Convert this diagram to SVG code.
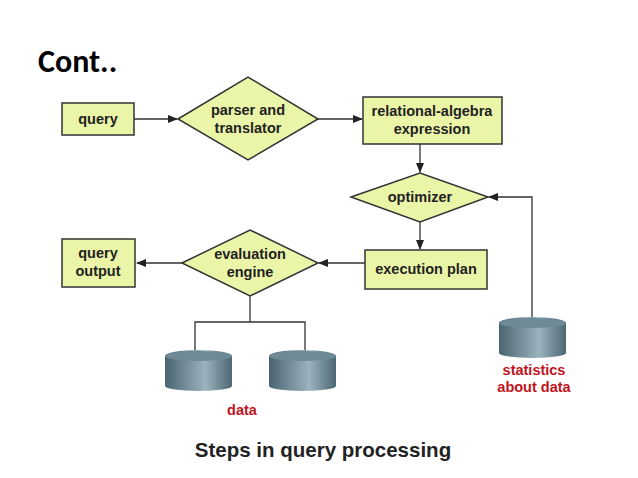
<svg xmlns="http://www.w3.org/2000/svg" width="638" height="478" viewBox="0 0 638 478">
<defs>
<style>
.n{fill:#ebf5a8;stroke:#333;stroke-width:1.5}
.t{font-family:"Liberation Sans",Arial,sans-serif;font-weight:bold;font-size:14.5px;fill:#222;text-anchor:middle}
.r{font-family:"Liberation Sans",Arial,sans-serif;font-weight:bold;font-size:14.5px;fill:#c0141c;text-anchor:middle}
.c{fill:none;stroke:#333;stroke-width:1.3}
</style>
<marker id="a" markerWidth="10" markerHeight="8" refX="9" refY="4" orient="auto" markerUnits="userSpaceOnUse"><path d="M0,0L10,4L0,8z" fill="#222"/></marker>
<linearGradient id="g" x1="0" x2="1"><stop offset="0" stop-color="#4a6470"/><stop offset="0.6" stop-color="#9bb3bd"/><stop offset="1" stop-color="#4d6874"/></linearGradient>
<g id="cyl"><path d="M0,6 A33.5,6 0 0 1 67,6 L67,36 A33.5,5 0 0 1 0,36 Z" fill="url(#g)"/><ellipse cx="33.5" cy="6" rx="33.5" ry="5" fill="#6f8a96"/></g>
</defs>
<rect width="638" height="478" fill="#fff"/>
<text x="38" y="72" font-family="Calibri,'Liberation Sans',sans-serif" font-weight="bold" font-size="32" fill="#000">Cont..</text>
<g id="connectors">
<line class="c" x1="134" y1="119" x2="177" y2="119" marker-end="url(#a)"/>
<line class="c" x1="318" y1="119" x2="362" y2="119" marker-end="url(#a)"/>
<line class="c" x1="420" y1="144" x2="420" y2="172" marker-end="url(#a)"/>
<line class="c" x1="420" y1="222" x2="420" y2="249" marker-end="url(#a)"/>
<line class="c" x1="365" y1="263" x2="319" y2="263" marker-end="url(#a)"/>
<line class="c" x1="182" y1="263" x2="137" y2="263" marker-end="url(#a)"/>
<polyline class="c" points="532,318 532,197 489,197" marker-end="url(#a)"/>
<polyline class="c" points="250,296 250,322"/>
<polyline class="c" points="195,352 195,322 305,322 305,352"/>
</g>
<g id="query"><rect class="n" x="62" y="103" width="72" height="32"/><text class="t" x="98" y="124">query</text></g>
<g id="parser"><polygon class="n" points="178,119 248,77 318,119 248,160"/><text class="t" x="248" y="115">parser and</text><text class="t" x="248" y="133">translator</text></g>
<g id="relalg"><rect class="n" x="363" y="97" width="139" height="47"/><text class="t" x="432" y="116">relational-algebra</text><text class="t" x="432" y="134">expression</text></g>
<g id="optimizer"><polygon class="n" points="351,197 420,173 488,197 420,222"/><text class="t" x="420" y="202">optimizer</text></g>
<g id="execplan"><rect class="n" x="365" y="250" width="122" height="39"/><text class="t" x="426" y="274">execution plan</text></g>
<g id="evaluation"><polygon class="n" points="182,263 250,230 318,263 250,296"/><text class="t" x="250" y="259">evaluation</text><text class="t" x="250" y="277">engine</text></g>
<g id="output"><rect class="n" x="62" y="239" width="73" height="48"/><text class="t" x="98" y="258">query</text><text class="t" x="98" y="276">output</text></g>
<g id="data1"><use href="#cyl" x="165" y="350"/></g>
<g id="data2"><use href="#cyl" x="269" y="350"/></g>
<g id="stats"><use href="#cyl" x="499" y="317"/></g>
<text class="r" x="242" y="415">data</text>
<text class="r" x="534" y="375">statistics</text>
<text class="r" x="534" y="392">about data</text>
<text x="323" y="457" font-family="'Liberation Sans',Arial,sans-serif" font-weight="bold" font-size="20.5" fill="#222" text-anchor="middle">Steps in query processing</text>
</svg>
